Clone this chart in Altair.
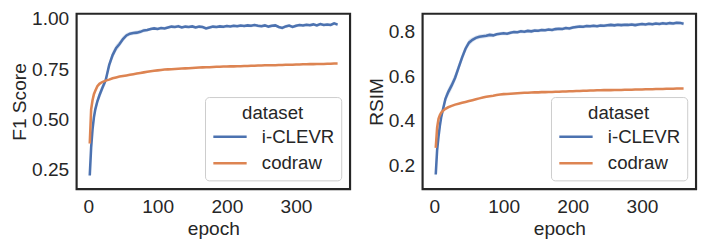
import altair as alt
import pandas as pd

epochs = [2, 4, 6, 8, 10, 13, 16, 20] + list(range(25, 361, 5))

iclevr_f1 = [
    0.22, 0.36, 0.45, 0.51, 0.55, 0.59, 0.62, 0.655, 0.695, 0.77,
    0.82, 0.855, 0.875, 0.90, 0.918, 0.927, 0.93, 0.932, 0.936, 0.943,
    0.945, 0.95, 0.953, 0.950, 0.955, 0.953, 0.958, 0.962, 0.960, 0.964,
    0.958, 0.962, 0.960, 0.963, 0.958, 0.962, 0.960, 0.953, 0.958, 0.962,
    0.960, 0.963, 0.961, 0.965, 0.963, 0.966, 0.964, 0.967, 0.965, 0.968,
    0.966, 0.970, 0.966, 0.964, 0.968, 0.962, 0.966, 0.968, 0.960, 0.955,
    0.963, 0.967, 0.960, 0.966, 0.970, 0.968, 0.971, 0.969, 0.973, 0.968,
    0.975, 0.970, 0.972, 0.970, 0.978, 0.972,
]
codraw_f1 = [
    0.38, 0.55, 0.595, 0.625, 0.642, 0.665, 0.677, 0.686, 0.693, 0.698,
    0.705, 0.709, 0.713, 0.716, 0.719, 0.722, 0.725, 0.728, 0.731, 0.734,
    0.737, 0.740, 0.742, 0.744, 0.746, 0.748, 0.749, 0.750, 0.751, 0.752,
    0.753, 0.754, 0.755, 0.756, 0.757, 0.758, 0.759, 0.760, 0.760, 0.761,
    0.762, 0.762, 0.763, 0.763, 0.764, 0.764, 0.765, 0.765, 0.766, 0.766,
    0.767, 0.767, 0.768, 0.768, 0.769, 0.769, 0.770, 0.770, 0.771, 0.771,
    0.772, 0.772, 0.772, 0.773, 0.773, 0.774, 0.774, 0.775, 0.775, 0.776,
    0.776, 0.776, 0.777, 0.777, 0.778, 0.778,
]
iclevr_rsim = [
    0.16, 0.27, 0.33, 0.38, 0.42, 0.46, 0.50, 0.53, 0.56, 0.595,
    0.64, 0.685, 0.725, 0.752, 0.765, 0.774, 0.779, 0.781, 0.783, 0.787,
    0.785, 0.790, 0.792, 0.794, 0.792, 0.797, 0.800, 0.799, 0.803, 0.801,
    0.805, 0.803, 0.807, 0.806, 0.809, 0.808, 0.811, 0.809, 0.813, 0.815,
    0.814, 0.818, 0.816, 0.820, 0.823, 0.825, 0.824, 0.827, 0.826, 0.828,
    0.826, 0.829, 0.828, 0.830, 0.832, 0.830, 0.833, 0.831, 0.833, 0.832,
    0.834, 0.831, 0.834, 0.836, 0.834, 0.837, 0.835, 0.838, 0.836, 0.839,
    0.837, 0.840, 0.838, 0.842, 0.841, 0.837,
]
codraw_rsim = [
    0.28, 0.37, 0.41, 0.427, 0.438, 0.448, 0.455, 0.462, 0.468, 0.474,
    0.478, 0.482, 0.486, 0.490, 0.494, 0.498, 0.502, 0.506, 0.509, 0.512,
    0.514, 0.517, 0.519, 0.521, 0.522, 0.523, 0.524, 0.525, 0.526, 0.527,
    0.527, 0.528, 0.529, 0.529, 0.530, 0.530, 0.531, 0.531, 0.532, 0.532,
    0.533, 0.533, 0.534, 0.534, 0.535, 0.535, 0.536, 0.536, 0.537, 0.537,
    0.538, 0.538, 0.539, 0.539, 0.539, 0.540, 0.540, 0.540, 0.541, 0.541,
    0.541, 0.542, 0.542, 0.542, 0.543, 0.543, 0.543, 0.544, 0.544, 0.544,
    0.545, 0.545, 0.545, 0.546, 0.546, 0.546,
]
# half-width of the shaded confidence band around the i-CLEVR curves
iclevr_band = [
    0.02, 0.02, 0.02, 0.02, 0.02, 0.02, 0.02, 0.02, 0.02, 0.02,
    0.02, 0.018, 0.016, 0.015, 0.012, 0.01, 0.01, 0.01, 0.01, 0.01,
] + [0.008] * 56

datasets = ["i-CLEVR", "codraw"]
colors = ["#4C72B0", "#DD8452"]

FONT = "Liberation Sans"
TXT = "#262626"


def make_df(blue, orange):
    rows = []
    for e, v, b in zip(epochs, blue, iclevr_band):
        rows.append({"epoch": e, "value": v, "dataset": "i-CLEVR", "lo": v - b, "hi": v + b})
    for e, v in zip(epochs, orange):
        rows.append({"epoch": e, "value": v, "dataset": "codraw", "lo": v, "hi": v})
    return pd.DataFrame(rows)


def panel(df, ytitle, ydomain, yticks, yfmt):
    x = alt.X("epoch:Q", title="epoch",
              scale=alt.Scale(domain=[-17, 378], nice=False, zero=False),
              axis=alt.Axis(values=[0, 100, 200, 300], labelPadding=9, titlePadding=4))
    band = alt.Chart(df[df.dataset == "i-CLEVR"]).mark_area(
        color="#4C72B0", opacity=0.18
    ).encode(
        x=x,
        y=alt.Y("lo:Q", scale=alt.Scale(domain=ydomain, nice=False, zero=False)),
        y2="hi:Q",
    )
    line = alt.Chart(df).mark_line(strokeWidth=2.6).encode(
        x=x,
        y=alt.Y("value:Q", title=ytitle,
                scale=alt.Scale(domain=ydomain, nice=False, zero=False),
                axis=alt.Axis(values=yticks, format=yfmt, labelPadding=8,
                              titlePadding=2)),
        color=alt.Color("dataset:N", title="dataset",
                        scale=alt.Scale(domain=datasets, range=colors),
                        legend=alt.Legend(orient="bottom-right", offset=9)),
    )
    return alt.layer(band, line).properties(width=279, height=179)


left = panel(make_df(iclevr_f1, codraw_f1), "F1 Score", [0.152, 1.026],
             [0.25, 0.5, 0.75, 1.0], ".2f")
right = panel(make_df(iclevr_rsim, codraw_rsim), "RSIM", [0.094, 0.882],
              [0.2, 0.4, 0.6, 0.8], ".1f")

chart = alt.hconcat(left, right, spacing=13).resolve_scale(
    color="independent", x="independent", y="independent"
).resolve_legend(color="independent").properties(
    padding={"left": 0, "top": -2.5, "right": 0, "bottom": 0}, background="white"
).configure_view(
    stroke=TXT, strokeWidth=2.2
).configure_axis(
    grid=False, ticks=False, domain=False,
    labelFont=FONT, labelFontSize=19.5, labelColor=TXT,
    titleFont=FONT, titleFontSize=19.5, titleColor=TXT, titleFontWeight="normal",
).configure_legend(
    fillColor="white", strokeColor="#cccccc", cornerRadius=4, padding=7,
    titleFont=FONT, titleFontSize=19, titleColor=TXT, titleFontWeight="normal",
    titleAnchor="middle", titlePadding=5,
    labelFont=FONT, labelFontSize=19, labelColor=TXT, labelOffset=14,
    symbolType="stroke", symbolSize=1156, symbolStrokeWidth=2.6,
    clipHeight=19, rowPadding=7,
)

chart.save("out.html", embed_options={"renderer": "svg", "actions": False})
